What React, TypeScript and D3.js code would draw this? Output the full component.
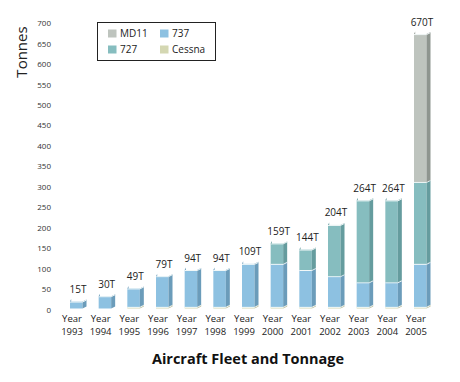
import React from "react";
import * as d3 from "d3";

const years = ["1993","1994","1995","1996","1997","1998","1999","2000","2001","2002","2003","2004","2005"];
const cessna = [0,0,4,4,4,4,4,4,4,4,4,4,4];
const b737 = [17,30,45,75,90,90,105,105,90,75,60,60,105];
const b727 = [0,0,0,0,0,0,0,50,50,125,200,200,200];
const md11 = [0,0,0,0,0,0,0,0,0,0,0,0,361];
const totals = ["15T","30T","49T","79T","94T","94T","109T","159T","144T","204T","264T","264T","670T"];
const yTicks = [0,50,100,150,200,250,300,350,400,450,500,550,600,650,700];

const seriesData = [cessna, b737, b727, md11];
const front = ["#d4d7b2","#8dc1e1","#86bdbf","#bec4be"];
const side = ["#b4b792","#6b9cba","#659c9e","#8e958f"];
const font = "'Open Sans', sans-serif";

export default function App() {
  const W = 460, H = 382;
  const y = d3.scaleLinear().domain([0, 700]).range([308.5, 21.8]);
  const x = d3.scalePoint<string>().domain(years).range([72, 416]);
  const fw = 12.5, sw = 4, lift = 2;

  const stacks = years.map((yr, i) => {
    let cum = 0;
    return seriesData.map((s, k) => {
      const v = s[i];
      const seg = { k, y0: cum, y1: cum + v, v };
      cum += v;
      return seg;
    }).filter(s => s.v > 0);
  });

  return (
    <svg width={W} height={H} style={{ position: "absolute", left: 0, top: 0 }}>
      <rect width={W} height={H} fill="#fff" />
      {yTicks.map(t => (
        <text key={t} x={51} y={y(t) + 4.3} textAnchor="end" fontFamily={font} fontSize={8} fill="#333">{t}</text>
      ))}
      <text transform="translate(27,52) rotate(-90)" textAnchor="middle" fontFamily={font} fontSize={15} fill="#222">Tonnes</text>
      {years.map((yr, i) => {
        const c = x(yr)!;
        const l = c - 2;
        const r = l + fw;
        const segs = stacks[i];
        const topCum = segs[segs.length - 1].y1;
        return (
          <g key={yr}>
            {segs.map(s => {
              const ya = y(s.y0), yb = y(s.y1);
              return (
                <g key={s.k}>
                  <rect x={l} y={yb} width={fw} height={ya - yb} fill={front[s.k]} />
                  <polygon points={`${r},${yb} ${r + sw},${yb - lift} ${r + sw},${ya - lift} ${r},${ya}`} fill={side[s.k]} />
                  <line x1={l} x2={r} y1={yb + 0.5} y2={yb + 0.5} stroke="#f2f8f8" strokeWidth={1} />
                  <line x1={r} x2={r + sw} y1={yb + 0.5} y2={yb - lift + 0.5} stroke="#eef5f5" strokeWidth={1} />
                </g>
              );
            })}
            <polygon points={`${l},${y(topCum)} ${l + 1.2},${y(topCum) - 2.5} ${l + 1.2},${y(topCum)}`} fill={side[segs[segs.length - 1].k]} />
            <text x={l + 8} y={y(topCum) - 8.5} textAnchor="middle" fontFamily={font} fontSize={10} fill="#222">{totals[i]}</text>
            <text x={c} y={321.5} textAnchor="middle" fontFamily={font} fontSize={9.5} fill="#222">Year</text>
            <text x={c} y={334.5} textAnchor="middle" fontFamily={font} fontSize={9.5} fill="#222">{yr}</text>
          </g>
        );
      })}
      <rect x={97.5} y={22.5} width={118} height={38} fill="#fff" stroke="#222" strokeWidth={1} />
      {[
        { n: "MD11", k: 3, x: 108, y: 29.5 },
        { n: "737", k: 1, x: 160, y: 29.5 },
        { n: "727", k: 2, x: 108, y: 45.5 },
        { n: "Cessna", k: 0, x: 160, y: 45.5 },
      ].map(d => (
        <g key={d.n}>
          <rect x={d.x} y={d.y} width={8.5} height={8} fill={front[d.k]} />
          <text x={d.x + 12} y={d.y + 7.5} fontFamily={font} fontSize={10} fill="#222">{d.n}</text>
        </g>
      ))}
      <text x={248} y={364} textAnchor="middle" fontFamily={font} fontSize={14.5} fontWeight="bold" fill="#111">Aircraft Fleet and Tonnage</text>
    </svg>
  );
}
